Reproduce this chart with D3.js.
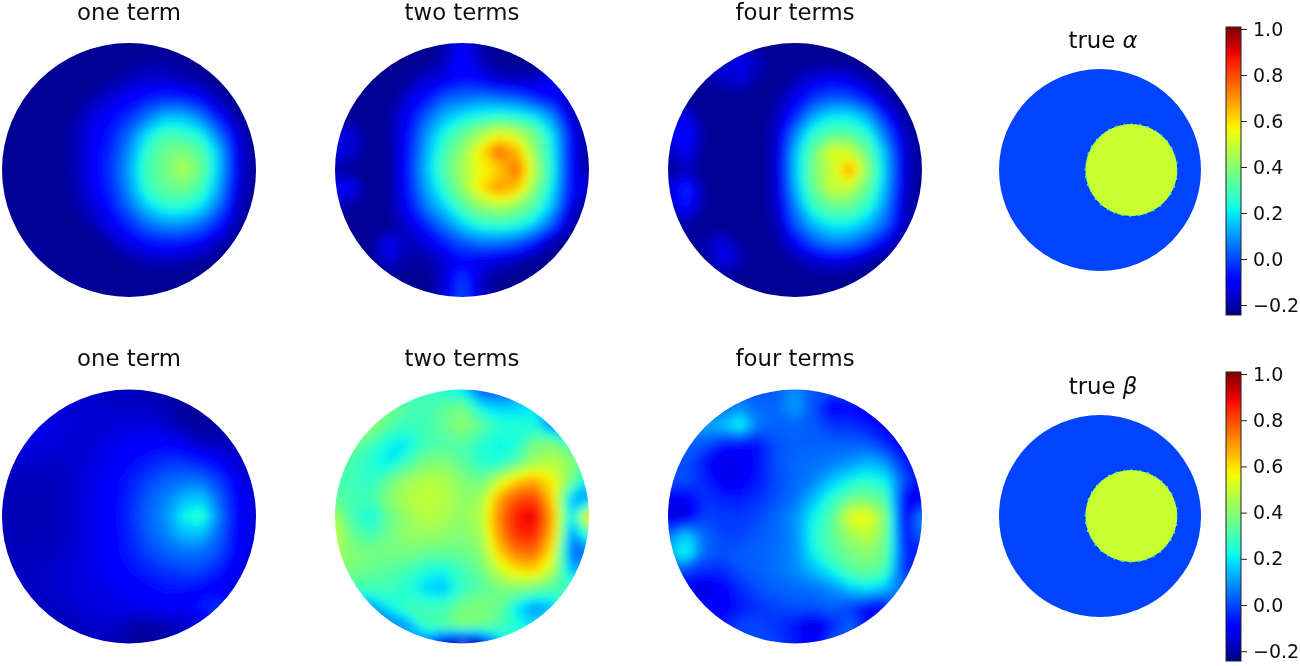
<!DOCTYPE html>
<html><head><meta charset="utf-8">
<script src="https://cdn.jsdelivr.net/npm/d3@7"></script>
<style>html,body{margin:0;background:#fff}svg{display:block}text{font-family:"DejaVu Sans";fill:#111}</style>
</head><body><svg id="c" width="1300" height="666"></svg>
<script>
const titles = ["one term","two terms","four terms"];
const trueNames = ["α","β"];
const colorbarTicks = [-0.2,0,0.2,0.4,0.6,0.8,1.0];
const valueRange = [-0.24,1.01];
const trueBackground = 0.0, trueInclusion = 0.5;
const inclusionCenter = [0.31,0], inclusionRadius = 0.455;

const alphaOne = [
[-.22,-.22,-.22,-.22,-.22,-.22,-.22,-.22,-.22,-.22,-.22,-.22,-.22,-.22,-.22],
[-.22,-.22,-.22,-.22,-.22,-.22,-.22,-.21,-.2,-.2,-.21,-.22,-.22,-.22,-.22],
[-.22,-.22,-.22,-.22,-.22,-.22,-.2,-.17,-.15,-.15,-.18,-.2,-.22,-.22,-.22],
[-.22,-.22,-.22,-.22,-.22,-.19,-.14,-.1,-.06,-.04,-.05,-.1,-.18,-.22,-.22],
[-.22,-.22,-.22,-.22,-.2,-.13,-.08,-.03,.06,.14,.14,.06,-.08,-.2,-.22],
[-.22,-.22,-.22,-.22,-.18,-.11,-.05,.05,.2,.3,.28,.22,.05,-.14,-.22],
[-.22,-.22,-.22,-.22,-.18,-.1,-.03,.1,.28,.37,.4,.33,.15,-.12,-.22],
[-.22,-.22,-.22,-.22,-.18,-.1,-.02,.12,.3,.38,.48,.36,.15,-.12,-.22],
[-.22,-.22,-.22,-.22,-.19,-.11,-.03,.1,.28,.35,.38,.3,.12,-.14,-.22],
[-.22,-.22,-.22,-.22,-.2,-.14,-.06,.05,.18,.26,.26,.2,.05,-.16,-.22],
[-.22,-.22,-.22,-.22,-.22,-.18,-.11,-.03,.05,.1,.1,.05,-.06,-.19,-.22],
[-.22,-.21,-.2,-.21,-.22,-.22,-.18,-.12,-.07,-.05,-.06,-.1,-.17,-.22,-.22],
[-.22,-.22,-.21,-.22,-.22,-.22,-.22,-.2,-.18,-.17,-.18,-.2,-.22,-.22,-.22],
[-.22,-.22,-.22,-.22,-.19,-.22,-.22,-.22,-.22,-.22,-.22,-.22,-.22,-.22,-.22],
[-.22,-.22,-.22,-.22,-.22,-.22,-.22,-.22,-.22,-.22,-.22,-.22,-.22,-.22,-.22]];

const alphaTwo = [
[-.22,-.22,-.22,-.22,-.22,-.22,-.2,-.1,-.2,-.22,-.22,-.22,-.22,-.22,-.22],
[-.22,-.22,-.22,-.22,-.22,-.22,-.17,-.06,-.16,-.22,-.22,-.22,-.22,-.22,-.22],
[-.22,-.22,-.22,-.22,-.2,-.15,-.12,-.07,-.1,-.15,-.17,-.16,-.1,-.18,-.22],
[-.22,-.22,-.22,-.22,-.14,-.07,.02,.05,.07,.05,.03,-.04,-.08,-.18,-.22],
[-.22,-.22,-.22,-.2,-.1,.03,.14,.2,.24,.26,.24,.2,.08,-.14,-.22],
[-.12,-.14,-.22,-.2,-.08,.1,.24,.35,.45,.55,.5,.38,.2,-.08,-.22],
[-.12,-.15,-.22,-.2,-.07,.13,.3,.42,.6,.78,.68,.42,.22,-.08,-.22],
[-.2,-.21,-.22,-.2,-.06,.15,.32,.45,.56,.62,.78,.48,.23,-.08,-.21],
[-.08,-.1,-.22,-.2,-.07,.12,.27,.42,.6,.72,.66,.42,.2,-.08,-.15],
[-.18,-.2,-.22,-.2,-.09,.07,.18,.32,.42,.47,.42,.32,.15,-.13,-.22],
[-.22,-.22,-.22,-.21,-.14,-.04,.07,.18,.26,.28,.26,.18,.02,-.18,-.22],
[-.22,-.22,-.2,-.1,-.17,-.13,-.05,.02,.06,.06,.03,-.06,-.18,-.22,-.22],
[-.22,-.22,-.22,-.13,-.2,-.2,-.14,-.08,-.11,-.14,-.17,-.22,-.22,-.22,-.22],
[-.22,-.22,-.22,-.22,-.22,-.22,-.15,0,-.16,-.22,-.22,-.22,-.22,-.22,-.22],
[-.22,-.22,-.22,-.22,-.22,-.22,-.14,.02,-.14,-.22,-.22,-.22,-.22,-.22,-.22]];

const alphaFour = [
[-.22,-.22,-.22,-.22,-.22,-.22,-.22,-.22,-.22,-.22,-.22,-.22,-.22,-.22,-.22],
[-.22,-.22,-.22,-.15,-.1,-.16,-.22,-.22,-.22,-.22,-.22,-.22,-.22,-.22,-.22],
[-.22,-.22,-.2,-.15,-.13,-.2,-.22,-.18,-.13,-.1,-.12,-.19,-.22,-.22,-.22],
[-.22,-.22,-.22,-.22,-.22,-.22,-.2,-.12,-.02,.02,.01,-.07,-.17,-.22,-.22],
[-.16,-.12,-.22,-.22,-.22,-.22,-.17,-.04,.12,.2,.2,.12,-.06,-.2,-.22],
[-.12,-.06,-.2,-.22,-.22,-.22,-.16,.08,.27,.33,.33,.26,.05,-.16,-.22],
[-.18,-.1,-.21,-.22,-.22,-.22,-.15,.15,.36,.55,.52,.36,.14,-.14,-.22],
[-.22,-.16,-.22,-.22,-.22,-.22,-.15,.16,.38,.5,.72,.42,.16,-.13,-.22],
[-.14,-.02,-.2,-.22,-.22,-.22,-.15,.14,.35,.52,.5,.36,.14,-.14,-.22],
[-.18,-.05,-.2,-.22,-.22,-.22,-.16,.08,.28,.36,.36,.27,.1,-.16,-.22],
[-.22,-.18,-.22,-.22,-.22,-.22,-.18,.02,.15,.22,.22,.15,.04,-.17,-.22],
[-.22,-.22,-.18,-.12,-.2,-.22,-.2,-.1,.02,.08,.07,0,-.12,-.2,-.22],
[-.22,-.22,-.22,-.1,-.17,-.22,-.22,-.19,-.15,-.12,-.14,-.19,-.22,-.22,-.22],
[-.22,-.22,-.22,-.22,-.22,-.22,-.22,-.22,-.22,-.22,-.22,-.22,-.22,-.22,-.22],
[-.22,-.22,-.22,-.22,-.22,-.22,-.22,-.22,-.22,-.22,-.22,-.22,-.22,-.22,-.22]];

const betaOne = [
[-.15,-.15,-.15,-.15,-.15,-.16,-.17,-.17,-.18,-.19,-.2,-.2,-.2,-.2,-.2],
[-.14,-.14,-.14,-.14,-.14,-.15,-.15,-.16,-.16,-.18,-.2,-.21,-.2,-.2,-.2],
[-.13,-.13,-.13,-.13,-.14,-.15,-.14,-.13,-.13,-.15,-.19,-.21,-.19,-.18,-.18],
[-.13,-.13,-.13,-.14,-.15,-.14,-.12,-.1,-.09,-.08,-.11,-.16,-.17,-.17,-.17],
[-.15,-.15,-.15,-.16,-.15,-.13,-.11,-.08,-.05,-.02,-.02,-.05,-.09,-.15,-.16],
[-.17,-.17,-.17,-.17,-.15,-.12,-.09,-.05,0,.04,.06,.06,-.01,-.11,-.15],
[-.18,-.18,-.18,-.17,-.15,-.12,-.09,-.04,.03,.08,.15,.17,.04,-.09,-.14],
[-.18,-.18,-.18,-.17,-.15,-.12,-.09,-.03,.04,.1,.23,.28,.07,-.09,-.14],
[-.18,-.18,-.18,-.17,-.15,-.12,-.09,-.04,.03,.08,.15,.15,.04,-.09,-.14],
[-.17,-.17,-.17,-.16,-.14,-.12,-.09,-.05,0,.04,.06,.06,.01,-.1,-.15],
[-.16,-.16,-.16,-.15,-.14,-.12,-.1,-.07,-.04,-.02,0,0,-.05,-.12,-.15],
[-.16,-.16,-.16,-.15,-.14,-.13,-.12,-.1,-.08,-.06,-.06,-.08,-.1,-.13,-.14],
[-.18,-.18,-.17,-.16,-.15,-.14,-.13,-.12,-.11,-.1,-.11,-.05,-.01,-.1,-.12],
[-.2,-.2,-.19,-.18,-.17,-.15,-.15,-.18,-.2,-.18,-.15,-.14,-.1,-.12,-.14],
[-.2,-.2,-.2,-.19,-.18,-.17,-.17,-.2,-.21,-.19,-.17,-.16,-.15,-.15,-.15]];

const betaTwo = [
[.3,.3,.3,.3,.3,.3,.25,.2,.02,0,.05,.2,.3,.3,.3],
[.45,.45,.42,.38,.32,.3,.34,.38,.22,.18,.18,.2,.1,.12,.2],
[.45,.45,.42,.33,.28,.3,.36,.42,.36,.27,.25,.25,.05,.1,.1],
[.4,.38,.3,.22,.2,.3,.32,.33,.26,.22,.24,.38,.4,.3,.1],
[.35,.3,.25,.2,.3,.38,.4,.34,.26,.24,.33,.44,.48,.42,.3],
[.32,.3,.27,.36,.44,.47,.47,.4,.36,.5,.62,.68,.58,.38,.2],
[.35,.3,.3,.41,.47,.5,.48,.42,.44,.68,.8,.82,.62,.15,.1],
[.45,.3,.22,.36,.43,.48,.46,.42,.47,.72,.88,.92,.68,.2,.65],
[.5,.35,.3,.37,.43,.44,.42,.4,.44,.7,.85,.86,.65,.1,.3],
[.45,.4,.38,.38,.38,.36,.35,.36,.4,.62,.75,.76,.58,.05,.05],
[.4,.38,.35,.33,.3,.24,.22,.3,.36,.5,.6,.62,.48,.15,.15],
[.3,.3,.3,.3,.25,.18,.16,.27,.33,.38,.4,.36,.32,.3,.4],
[.12,.08,.1,.22,.3,.3,.3,.38,.4,.36,.2,.1,.15,.3,.4],
[.1,.1,.1,.05,.12,.3,.33,.4,.38,.33,.25,.18,.25,.3,.3],
[.3,.3,.3,.25,.18,.05,-.15,-.25,-.2,.1,.3,.3,.3,.3,.3]];

const betaFour = [
[.02,.02,.02,.02,.02,.02,.03,.1,.02,.02,.02,.02,.02,.02,.02],
[0,0,.02,.05,.1,.05,.05,.12,.02,-.1,-.08,-.1,-.1,-.12,-.12],
[.1,.1,.12,.16,.25,.07,.04,.05,.03,-.02,-.02,-.05,-.1,-.12,-.12],
[.03,.03,.03,-.05,-.08,-.06,.02,.04,.04,.04,.04,.03,-.03,-.12,-.12],
[.02,.02,-.06,-.12,-.12,-.06,.02,.05,.06,.07,.1,.14,.1,-.04,-.1],
[.02,.02,-.03,-.12,-.1,-.05,.01,.05,.08,.16,.22,.26,.22,.02,-.08],
[-.1,-.1,-.02,-.04,-.05,-.02,.02,.06,.15,.26,.36,.38,.32,-.08,-.1],
[-.14,-.14,0,-.01,-.01,.01,.05,.1,.22,.32,.55,.58,.4,-.1,.1],
[.05,.18,.05,0,0,.03,.05,.09,.24,.34,.44,.5,.38,-.06,.05],
[.15,.25,.05,.02,.03,.04,.06,.09,.22,.32,.38,.42,.36,-.03,-.04],
[.03,0,-.03,-.03,.02,.04,.06,.09,.15,.22,.32,.36,.3,-.03,-.05],
[-.08,-.12,-.14,-.1,-.03,.02,.04,.05,.06,.09,.16,.2,.15,.05,.1],
[-.08,-.1,-.1,-.1,-.05,-.02,0,.02,.02,.04,0,-.08,-.1,.16,.1],
[-.05,-.05,-.05,-.05,0,0,-.02,-.06,-.14,-.05,.05,-.08,.1,.1,.1],
[0,0,0,0,0,0,0,-.05,-.1,.02,.02,.02,.02,.02,.02]];

const rows = [
  {cy:170, titleY:20, trueTitleY:48, name:trueNames[0], grids:[alphaOne,alphaTwo,alphaFour], bar:[27,315], zero:259, top:29},
  {cy:516.5, titleY:366, trueTitleY:394, name:trueNames[1], grids:[betaOne,betaTwo,betaFour], bar:[372,661], zero:605, top:374}
];
const panelCx = [129,462,795], panelR = 127;
const trueCx = 1100, trueR = 101;

/* matplotlib jet */
const jr = d3.scaleLinear([0,.35,.66,.89,1],[0,0,1,1,.5]).clamp(true);
const jg = d3.scaleLinear([0,.125,.375,.64,.91,1],[0,0,1,1,0,0]).clamp(true);
const jb = d3.scaleLinear([0,.11,.34,.65,1],[.5,1,1,0,0]).clamp(true);
const tScale = d3.scaleLinear(valueRange,[0,1]);
const jet = v => { const t=tScale(v); return d3.rgb(jr(t)*255,jg(t)*255,jb(t)*255).formatRgb(); };

const svg = d3.select("#c");
const defs = svg.append("defs");
defs.append("filter").attr("id","soft").attr("x","-10%").attr("y","-10%").attr("width","120%").attr("height","120%")
  .append("feGaussianBlur").attr("stdDeviation",4);
defs.append("filter").attr("id","txt").append("feGaussianBlur").attr("stdDeviation",0.35);
const grad = defs.append("linearGradient").attr("id","jetbar").attr("x1",0).attr("x2",0).attr("y1",1).attr("y2",0);
d3.range(0,1.0001,0.02).forEach(t=>grad.append("stop").attr("offset",t)
  .attr("stop-color",jet(valueRange[0]+t*(valueRange[1]-valueRange[0]))));

const levels = d3.range(-0.24,1.0,0.01);
const N = 15, pad = 2;

function padded(grid){            // repeat edge samples so the blur stays clean at the rim
  const M = N+2*pad, out = new Array(M*M);
  for(let j=0;j<M;j++)for(let i=0;i<M;i++){
    const a=Math.min(N-1,Math.max(0,j-pad)), b=Math.min(N-1,Math.max(0,i-pad));
    out[j*M+i]=grid[a][b];
  }
  return {M,out};
}

rows.forEach((row,ri)=>{
  row.grids.forEach((grid,pi)=>{
    const cx=panelCx[pi], cy=row.cy, id=`clip${ri}${pi}`;
    defs.append("clipPath").attr("id",id).append("circle").attr("cx",cx).attr("cy",cy).attr("r",panelR);
    const {M,out}=padded(grid);
    const x=d3.scaleLinear([pad+.5,pad+N-.5],[cx-panelR,cx+panelR]);
    const y=d3.scaleLinear([pad+.5,pad+N-.5],[cy-panelR,cy+panelR]);
    const path=d3.geoPath(d3.geoTransform({point(a,b){this.stream.point(x(a),y(b));}}));
    const cs=d3.contours().size([M,M]).thresholds(levels)(out);
    const g=svg.append("g").attr("clip-path",`url(#${id})`).append("g").attr("filter","url(#soft)");
    g.selectAll("path").data(cs).join("path").attr("d",path).attr("fill",d=>jet(d.value));
    svg.append("text").attr("x",cx).attr("y",row.titleY).attr("text-anchor","middle")
      .attr("font-size",22.8).attr("filter","url(#txt)").text(titles[pi]);
  });

  // true field
  const cy=row.cy-0.5*ri;
  const ux=d3.scaleLinear([-1,1],[trueCx-trueR,trueCx+trueR]);
  const uy=d3.scaleLinear([-1,1],[cy-trueR,cy+trueR]);
  svg.append("circle").attr("cx",ux(0)).attr("cy",uy(0)).attr("r",trueR).attr("fill",jet(trueBackground));
  svg.append("circle").attr("cx",ux(inclusionCenter[0])).attr("cy",uy(inclusionCenter[1]))
    .attr("r",ux(inclusionRadius)-ux(0)).attr("fill",jet(trueInclusion));
  svg.append("circle").attr("cx",ux(inclusionCenter[0])).attr("cy",uy(inclusionCenter[1]))
    .attr("r",ux(inclusionRadius)-ux(0)).attr("fill","none").attr("stroke",jet(0.25))
    .attr("stroke-width",1.6).attr("stroke-dasharray","2 6");
  svg.append("circle").attr("cx",ux(inclusionCenter[0])).attr("cy",uy(inclusionCenter[1]))
    .attr("r",ux(inclusionRadius)-ux(0)+0.5).attr("fill","none").attr("stroke",jet(-0.15))
    .attr("stroke-width",1).attr("stroke-dasharray","1.5 9.5");
  const tt=svg.append("text").attr("x",trueCx+3).attr("y",row.trueTitleY).attr("text-anchor","middle")
    .attr("font-size",22.8).attr("filter","url(#txt)");
  tt.append("tspan").text("true ");
  tt.append("tspan").attr("font-style","italic").text(row.name);

  // colorbar
  const yb=d3.scaleLinear([0,1],[row.zero,row.top]);
  svg.append("rect").attr("x",1226).attr("width",15).attr("y",row.bar[0]).attr("height",row.bar[1]-row.bar[0])
    .attr("fill","url(#jetbar)").attr("stroke","#222").attr("stroke-width",1);
  const ax=svg.append("g").attr("transform","translate(1241,0)")
    .call(d3.axisRight(yb).tickValues(colorbarTicks).tickSize(6).tickPadding(6).tickFormat(d=>d3.format(".1f")(d).replace("-","−")));
  ax.select(".domain").remove();
  ax.selectAll("line").attr("stroke","#222");
  ax.selectAll("text").attr("font-size",19).attr("font-family","DejaVu Sans").attr("fill","#111").attr("filter","url(#txt)");
});
</script></body></html>
